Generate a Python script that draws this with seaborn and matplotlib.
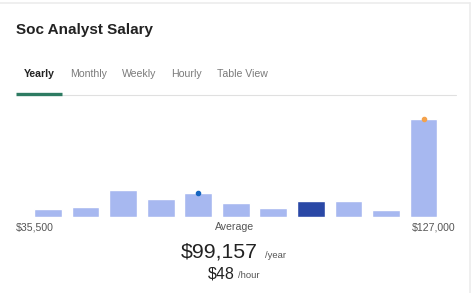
import matplotlib
matplotlib.use("Agg")
import matplotlib.pyplot as plt
import seaborn as sns
import pandas as pd
from matplotlib.lines import Line2D

# ---- data ----
bins = ["b1", "b2", "b3", "b4", "b5", "b6", "b7", "b8", "b9", "b10", "b11"]
heights = [7.4, 9.4, 27.0, 17.7, 23.4, 13.4, 8.7, 15.4, 15.4, 6.7, 98.0]
highlight_index = 7
min_label = "$35,500"
max_label = "$127,000"
avg_label = "Average"
avg_year = "$99,157"
avg_hour = "$48"
title = "Soc Analyst Salary"
tabs = ["Yearly", "Monthly", "Weekly", "Hourly", "Table View"]
blue_dot_bar = 4
orange_dot_bar = 10

W, H = 474, 293
sns.set_theme(style="white")
plt.rcParams['font.family'] = ['Liberation Sans', 'DejaVu Sans']

fig = plt.figure(figsize=(W / 100, H / 100), dpi=100)
fig.patch.set_facecolor("white")

def fx(x):
    return x / W

def fy(y):
    return 1 - y / H

# card border
fig.add_artist(Line2D([fx(0), fx(470)], [fy(3), fy(3)], color="#ececec", lw=1.2))
fig.add_artist(Line2D([fx(470), fx(470)], [fy(3), fy(293)], color="#ececec", lw=1.2))

# bars axes
left, right = 29.2, 442.3
bottom, top = 216.7, 110.0
ax = fig.add_axes([fx(left), fy(bottom), fx(right - left), (bottom - top) / H])
df = pd.DataFrame({"bin": bins, "h": heights})
colors = ["#2a48a6" if i == highlight_index else "#a7b8f0" for i in range(len(bins))]
sns.barplot(data=df, x="bin", y="h", hue="bin", palette=colors, legend=False,
            width=0.74, ax=ax, saturation=1)
ax.set_xlim(-0.5, len(bins) - 0.5)
ax.set_ylim(0, bottom - top)
ax.axis("off")
ax.scatter([blue_dot_bar], [heights[blue_dot_bar]], s=9, color="#1565c0", zorder=5, clip_on=False)
ax.scatter([orange_dot_bar], [heights[orange_dot_bar]], s=9, color="#f4a24c", zorder=5, clip_on=False)

# title
fig.text(fx(16), fy(30), title, fontsize=11.0, fontweight="bold", color="#222222", va="center", ha="left")

# tabs
tab_x = [24, 70, 122, 171, 217]
for i, (t, x) in enumerate(zip(tabs, tab_x)):
    fig.text(fx(x), fy(73.5), t, fontsize=7.6, va="center", ha="left",
             color="#222222" if i == 0 else "#7a7a7a",
             fontweight="bold" if i == 0 else "normal")
fig.add_artist(Line2D([fx(62), fx(456)], [fy(95), fy(95)], color="#e0e0e0", lw=0.8))
fig.add_artist(Line2D([fx(16), fx(62)], [fy(94), fy(94)], color="#2e7b62", lw=2.4, solid_capstyle="butt"))

# axis labels
fig.text(fx(16), fy(227.5), min_label, fontsize=7.6, color="#555555", va="center", ha="left")
fig.text(fx(235), fy(227.5), avg_label, fontsize=7.6, color="#555555", va="center", ha="center")
fig.text(fx(455), fy(227.5), max_label, fontsize=7.6, color="#555555", va="center", ha="right")

# average values
fig.text(fx(258), fy(258), avg_year, fontsize=15.3, color="#222222", va="baseline", ha="right")
fig.text(fx(265), fy(258), "/year", fontsize=6.8, color="#555555", va="baseline", ha="left")
fig.text(fx(235), fy(278), avg_hour, fontsize=11.5, color="#222222", va="baseline", ha="right")
fig.text(fx(238), fy(278), "/hour", fontsize=6.8, color="#555555", va="baseline", ha="left")

fig.savefig("out.png", dpi=100, facecolor="white")
